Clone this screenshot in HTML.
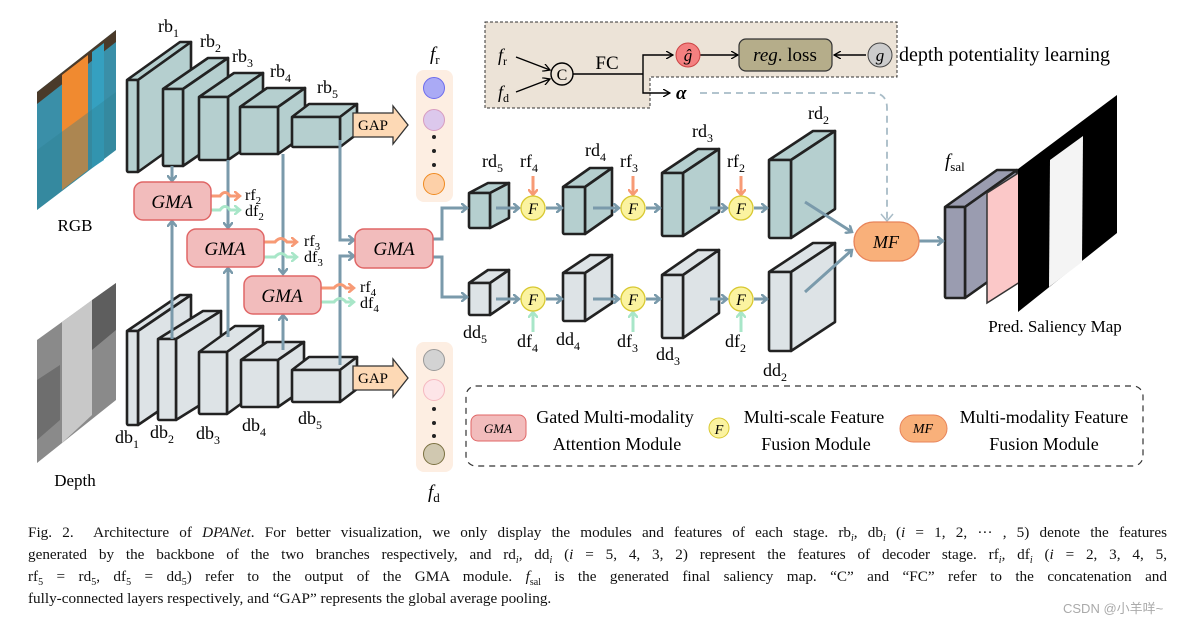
<!DOCTYPE html>
<html><head><meta charset="utf-8"><style>
html,body{margin:0;padding:0;background:#fff;width:1197px;height:624px;overflow:hidden;position:relative}
svg{position:absolute;left:0;top:0}
.cap{position:absolute;left:28px;width:1139px;font-family:"Liberation Serif",serif;font-size:15.2px;line-height:18px;text-align:justify;text-align-last:justify;color:#111;white-space:nowrap}
.cap.last{text-align-last:left}
.wm{position:absolute;left:1063px;top:598px;font-family:"Liberation Sans","Noto Sans CJK SC",sans-serif;font-size:13px;color:#aaa}
</style></head><body>
<svg width="1197" height="624" viewBox="0 0 1197 624" xmlns="http://www.w3.org/2000/svg" font-family="Liberation Serif, serif">
<defs>
<marker id="ab" markerWidth="8" markerHeight="10" refX="6" refY="5" orient="auto" markerUnits="userSpaceOnUse"><path d="M0,0 L6,5 L0,10" fill="none" stroke="#7a9aab" stroke-width="2.5"/></marker>
<marker id="ao" markerWidth="8" markerHeight="10" refX="6" refY="5" orient="auto" markerUnits="userSpaceOnUse"><path d="M0,0 L6,5 L0,10" fill="none" stroke="#f79a75" stroke-width="2.5"/></marker>
<marker id="ag" markerWidth="8" markerHeight="10" refX="6" refY="5" orient="auto" markerUnits="userSpaceOnUse"><path d="M0,0 L6,5 L0,10" fill="none" stroke="#a8e6c8" stroke-width="2.5"/></marker>
<marker id="ak" markerWidth="8" markerHeight="8" refX="7" refY="4" orient="auto" markerUnits="userSpaceOnUse"><path d="M0,0 L7,4 L0,8" fill="none" stroke="#000" stroke-width="1.3"/></marker>
</defs>

<!-- RGB image -->
<polygon points="37,92 116,30 116,150 37,210" fill="#3a8fa8"/>
<polygon points="37,92 116,30 116,42 37,104" fill="#4a3a2a"/>
<polygon points="62,75 88,55 88,170 62,190" fill="#f08a30"/>
<polygon points="92,52 104,43 104,160 92,168" fill="#35a0c0"/>
<polygon points="37,150 116,92 116,150 37,210" fill="#2e7f90" opacity="0.35"/>
<text x="75" y="231" font-size="17" text-anchor="middle">RGB</text>
<!-- Depth image -->
<polygon points="37,340 116,283 116,400 37,463" fill="#8a8a8a"/>
<polygon points="62,322 92,300 92,415 62,443" fill="#c8c8c8"/>
<polygon points="92,300 116,283 116,330 92,350" fill="#5e5e5e"/>
<polygon points="37,380 60,365 60,420 37,440" fill="#6e6e6e"/>
<text x="75" y="486" font-size="17" text-anchor="middle">Depth</text>

<g id="boxes" stroke="#222" stroke-width="2.6" stroke-linejoin="round"></g>

<g stroke="#7a9aab" stroke-width="3" fill="none">
<path d="M172,166 L172,181" marker-end="url(#ab)"/>
<path d="M172,339 L172,221" marker-end="url(#ab)"/>
<path d="M228,160 L228,228" marker-end="url(#ab)"/>
<path d="M228,337 L228,268" marker-end="url(#ab)"/>
<path d="M283,154 L283,274" marker-end="url(#ab)"/>
<path d="M283,350 L283,315" marker-end="url(#ab)"/>
<path d="M340,140 L340,240 L354,240" marker-end="url(#ab)"/>
<path d="M340,365 L340,256 L354,256" marker-end="url(#ab)"/>
<path d="M433,239 L442,239 L442,208 L467,208" marker-end="url(#ab)"/>
<path d="M433,257 L442,257 L442,297 L467,297" marker-end="url(#ab)"/>
<path d="M496,208 L519,208" marker-end="url(#ab)"/>
<path d="M546,208 L562,208" marker-end="url(#ab)"/>
<path d="M593,208 L619,208" marker-end="url(#ab)"/>
<path d="M646,208 L660,208" marker-end="url(#ab)"/>
<path d="M710,208 L727,208" marker-end="url(#ab)"/>
<path d="M754,208 L767,208" marker-end="url(#ab)"/>
<path d="M496,299 L519,299" marker-end="url(#ab)"/>
<path d="M546,299 L562,299" marker-end="url(#ab)"/>
<path d="M593,299 L619,299" marker-end="url(#ab)"/>
<path d="M646,299 L660,299" marker-end="url(#ab)"/>
<path d="M710,299 L727,299" marker-end="url(#ab)"/>
<path d="M754,299 L767,299" marker-end="url(#ab)"/>
<path d="M805,202 L852,232" marker-end="url(#ab)"/>
<path d="M805,292 L852,250" marker-end="url(#ab)"/>
<path d="M919,241 L943,241" marker-end="url(#ab)"/>
</g>
<g stroke-width="3" fill="none">
<path d="M211,196 L220,196 Q225,189 230,196 L240,196" stroke="#f79a75" marker-end="url(#ao)"/>
<path d="M211,210 L220,210 Q225,203 230,210 L240,210" stroke="#a8e6c8" marker-end="url(#ag)"/>
<path d="M264,242 L275,242 Q281,235 287,242 L297,242" stroke="#f79a75" marker-end="url(#ao)"/>
<path d="M264,257 L275,257 Q281,250 287,257 L297,257" stroke="#a8e6c8" marker-end="url(#ag)"/>
<path d="M321,288 L334,288 Q340,281 346,288 L354,288" stroke="#f79a75" marker-end="url(#ao)"/>
<path d="M321,302 L334,302 Q340,295 346,302 L354,302" stroke="#a8e6c8" marker-end="url(#ag)"/>
<path d="M533,176 L533,195" stroke="#f79a75" marker-end="url(#ao)"/>
<path d="M633,176 L633,195" stroke="#f79a75" marker-end="url(#ao)"/>
<path d="M741,176 L741,195" stroke="#f79a75" marker-end="url(#ao)"/>
<path d="M533,332 L533,312" stroke="#a8e6c8" marker-end="url(#ag)"/>
<path d="M633,332 L633,312" stroke="#a8e6c8" marker-end="url(#ag)"/>
<path d="M741,332 L741,312" stroke="#a8e6c8" marker-end="url(#ag)"/>
</g>

<g fill="#f2bcbc" stroke="#e06666" stroke-width="1.5">
<rect x="134" y="182" width="77" height="38" rx="9"/>
<rect x="187" y="229" width="77" height="38" rx="9"/>
<rect x="244" y="276" width="77" height="38" rx="9"/>
<rect x="355" y="229" width="78" height="39" rx="9"/>
</g>
<g font-size="19" font-style="italic" text-anchor="middle">
<text x="172" y="208">GMA</text><text x="225" y="255">GMA</text><text x="282" y="302">GMA</text><text x="394" y="255">GMA</text>
</g>
<g font-size="16">
<text x="245" y="200">rf<tspan font-size="11" dy="4">2</tspan></text>
<text x="245" y="216">df<tspan font-size="11" dy="4">2</tspan></text>
<text x="304" y="246">rf<tspan font-size="11" dy="4">3</tspan></text>
<text x="304" y="262">df<tspan font-size="11" dy="4">3</tspan></text>
<text x="360" y="292">rf<tspan font-size="11" dy="4">4</tspan></text>
<text x="360" y="308">df<tspan font-size="11" dy="4">4</tspan></text>
</g>

<g fill="#fdd9b5" stroke="#333" stroke-width="1.3">
<polygon points="353,113 393,113 393,106 408,125 393,144 393,137 353,137"/>
<polygon points="353,366 393,366 393,359 408,378 393,397 393,390 353,390"/>
</g>
<text x="373" y="130" font-size="15" text-anchor="middle">GAP</text>
<text x="373" y="383" font-size="15" text-anchor="middle">GAP</text>

<rect x="416" y="70" width="37" height="132" rx="8" fill="#fdeee2"/>
<rect x="416" y="342" width="37" height="130" rx="8" fill="#fdeee2"/>
<circle cx="434" cy="88" r="10.5" fill="#aaaaf5" stroke="#6b6bee"/>
<circle cx="434" cy="120" r="10.5" fill="#dcc8ec" stroke="#d79bc0"/>
<circle cx="434" cy="184" r="10.5" fill="#fdd0a8" stroke="#f08a20"/>
<circle cx="434" cy="360" r="10.5" fill="#d3d3d3" stroke="#999"/>
<circle cx="434" cy="390" r="10.5" fill="#fde5e8" stroke="#f5b8c0"/>
<circle cx="434" cy="454" r="10.5" fill="#d0c8b0" stroke="#7a7040"/>
<g fill="#222"><circle cx="434" cy="137" r="2"/><circle cx="434" cy="151" r="2"/><circle cx="434" cy="165" r="2"/>
<circle cx="434" cy="409" r="2"/><circle cx="434" cy="423" r="2"/><circle cx="434" cy="436" r="2"/></g>
<text x="430" y="60" font-size="19"><tspan font-style="italic">f</tspan><tspan font-size="13" dy="4">r</tspan></text>
<text x="428" y="498" font-size="19"><tspan font-style="italic">f</tspan><tspan font-size="13" dy="4">d</tspan></text>

<g font-size="18">
<text x="158" y="32">rb<tspan font-size="12" dy="5">1</tspan></text>
<text x="200" y="47">rb<tspan font-size="12" dy="5">2</tspan></text>
<text x="232" y="62">rb<tspan font-size="12" dy="5">3</tspan></text>
<text x="270" y="77">rb<tspan font-size="12" dy="5">4</tspan></text>
<text x="317" y="93">rb<tspan font-size="12" dy="5">5</tspan></text>
<text x="115" y="443">db<tspan font-size="12" dy="5">1</tspan></text>
<text x="150" y="438">db<tspan font-size="12" dy="5">2</tspan></text>
<text x="196" y="439">db<tspan font-size="12" dy="5">3</tspan></text>
<text x="242" y="431">db<tspan font-size="12" dy="5">4</tspan></text>
<text x="298" y="424">db<tspan font-size="12" dy="5">5</tspan></text>
<text x="482" y="167">rd<tspan font-size="12" dy="5">5</tspan></text>
<text x="520" y="167">rf<tspan font-size="12" dy="5">4</tspan></text>
<text x="585" y="156">rd<tspan font-size="12" dy="5">4</tspan></text>
<text x="620" y="167">rf<tspan font-size="12" dy="5">3</tspan></text>
<text x="692" y="137">rd<tspan font-size="12" dy="5">3</tspan></text>
<text x="727" y="167">rf<tspan font-size="12" dy="5">2</tspan></text>
<text x="808" y="119">rd<tspan font-size="12" dy="5">2</tspan></text>
<text x="463" y="338">dd<tspan font-size="12" dy="5">5</tspan></text>
<text x="517" y="347">df<tspan font-size="12" dy="5">4</tspan></text>
<text x="556" y="345">dd<tspan font-size="12" dy="5">4</tspan></text>
<text x="617" y="347">df<tspan font-size="12" dy="5">3</tspan></text>
<text x="656" y="360">dd<tspan font-size="12" dy="5">3</tspan></text>
<text x="725" y="347">df<tspan font-size="12" dy="5">2</tspan></text>
<text x="763" y="376">dd<tspan font-size="12" dy="5">2</tspan></text>
</g>

<g fill="#fbf3a0" stroke="#d8c830" stroke-width="1.3">
<circle cx="533" cy="208" r="12"/><circle cx="633" cy="208" r="12"/><circle cx="741" cy="208" r="12"/>
<circle cx="533" cy="299" r="12"/><circle cx="633" cy="299" r="12"/><circle cx="741" cy="299" r="12"/>
</g>
<g font-size="16" font-style="italic" text-anchor="middle">
<text x="533" y="214">F</text><text x="633" y="214">F</text><text x="741" y="214">F</text>
<text x="533" y="305">F</text><text x="633" y="305">F</text><text x="741" y="305">F</text>
</g>

<path d="M700,93 L872,93 Q887,93 887,108 L887,220" fill="none" stroke="#a8bcc7" stroke-width="1.8" stroke-dasharray="7,5"/>
<path d="M881,214 L887,221 L893,214" fill="none" stroke="#a8bcc7" stroke-width="1.5"/>
<rect x="854" y="222" width="65" height="39" rx="19.5" fill="#f9b07a" stroke="#e8845a" stroke-width="1.3"/>
<text x="886" y="248" font-size="18" font-style="italic" text-anchor="middle">MF</text>

<polygon points="987,193 1020,172 1020,282 987,303" fill="#fbc8c8" stroke="#333" stroke-width="1.5"/>
<polygon points="1018,169 1117,95 1117,233 1018,312" fill="#000"/>
<polygon points="1050,160 1083,136 1082,262 1049,287" fill="#f4f4f4"/>
<text x="945" y="167" font-size="19"><tspan font-style="italic">f</tspan><tspan font-size="13" dy="4">sal</tspan></text>
<text x="1055" y="332" font-size="17" text-anchor="middle">Pred. Saliency Map</text>

<!-- top box -->
<path d="M485,22 L897,22 L897,77 L650,77 L650,108 L485,108 Z" fill="#ece3d7" stroke="#333" stroke-width="1" stroke-dasharray="3,2"/>
<text x="498" y="61" font-size="18"><tspan font-style="italic">f</tspan><tspan font-size="12" dy="4">r</tspan></text>
<text x="498" y="98" font-size="18"><tspan font-style="italic">f</tspan><tspan font-size="12" dy="4">d</tspan></text>
<g stroke="#000" stroke-width="1.4" fill="none">
<path d="M516,57 L550,70" marker-end="url(#ak)"/>
<path d="M516,92 L550,79" marker-end="url(#ak)"/>
<circle cx="562" cy="74" r="11" fill="#ece3d7"/>
<path d="M573,74 L643,74"/>
<path d="M643,74 L643,55 L673,55" marker-end="url(#ak)"/>
<path d="M643,74 L643,93 L670,93" marker-end="url(#ak)"/>
<path d="M700,55 L738,55" marker-end="url(#ak)"/>
<path d="M866,55 L834,55" marker-end="url(#ak)"/>
</g>
<text x="562" y="80" font-size="16" text-anchor="middle">C</text>
<text x="607" y="69" font-size="19" text-anchor="middle">FC</text>
<circle cx="688" cy="55" r="12" fill="#f48080" stroke="#c44" stroke-width="1"/>
<text x="688" y="61" font-size="17" font-style="italic" text-anchor="middle">ĝ</text>
<rect x="739" y="39" width="93" height="32" rx="7" fill="#b5ad8a" stroke="#333" stroke-width="1.2"/>
<text x="785" y="61" font-size="19" text-anchor="middle"><tspan font-style="italic">reg</tspan>. loss</text>
<circle cx="880" cy="55" r="12" fill="#ccc" stroke="#444" stroke-width="1"/>
<text x="880" y="61" font-size="17" font-style="italic" text-anchor="middle">g</text>
<text x="899" y="61" font-size="20">depth potentiality learning</text>
<text x="676" y="99" font-size="19" font-weight="bold" font-style="italic">α</text>

<!-- legend -->
<rect x="466" y="386" width="677" height="80" rx="10" fill="none" stroke="#333" stroke-width="1.2" stroke-dasharray="6,5"/>
<rect x="471" y="415" width="55" height="26" rx="7" fill="#f2bcbc" stroke="#e06666"/>
<text x="498" y="433" font-size="13" font-style="italic" text-anchor="middle">GMA</text>
<circle cx="719" cy="428" r="10" fill="#fbf3a0" stroke="#d8c830"/>
<text x="719" y="434" font-size="14" font-style="italic" text-anchor="middle">F</text>
<rect x="900" y="415" width="47" height="27" rx="13.5" fill="#f9b07a" stroke="#e8845a"/>
<text x="923" y="433" font-size="14" font-style="italic" text-anchor="middle">MF</text>
<g font-size="18" text-anchor="middle">
<text x="615" y="423">Gated Multi-modality</text><text x="617" y="450">Attention Module</text>
<text x="814" y="423">Multi-scale Feature</text><text x="816" y="450">Fusion Module</text>
<text x="1044" y="423">Multi-modality Feature</text><text x="1044" y="450">Fusion Module</text>
</g>
</svg>

<div class="cap" style="top:524px">Fig. 2.&nbsp; Architecture of <i>DPANet</i>. For better visualization, we only display the modules and features of each stage. rb<sub style="font-size:10px"><i>i</i></sub>, db<sub style="font-size:10px"><i>i</i></sub> (<i>i</i> = 1, 2, ··· , 5) denote the features</div>
<div class="cap" style="top:546px">generated by the backbone of the two branches respectively, and rd<sub style="font-size:10px"><i>i</i></sub>, dd<sub style="font-size:10px"><i>i</i></sub> (<i>i</i> = 5, 4, 3, 2) represent the features of decoder stage. rf<sub style="font-size:10px"><i>i</i></sub>, df<sub style="font-size:10px"><i>i</i></sub> (<i>i</i> = 2, 3, 4, 5,</div>
<div class="cap" style="top:568px">rf<sub style="font-size:10px">5</sub> = rd<sub style="font-size:10px">5</sub>, df<sub style="font-size:10px">5</sub> = dd<sub style="font-size:10px">5</sub>) refer to the output of the GMA module. <i>f</i><sub style="font-size:10px">sal</sub> is the generated final saliency map. “C” and “FC” refer to the concatenation and</div>
<div class="cap last" style="top:590px">fully-connected layers respectively, and “GAP” represents the global average pooling.</div>
<div class="wm">CSDN @小羊咩~</div>

<script>
(function(){
var g=document.getElementById('boxes');
function box(x,y,w,h,X2,Yt,fill){
 var dx=X2-(x+w), dy=Yt-y;
 var s='<polygon fill="'+fill+'" points="'+x+','+y+' '+(x+dx)+','+(y+dy)+' '+(x+w+dx)+','+(y+dy)+' '+(x+w)+','+y+'"/>'+
 '<polygon fill="'+fill+'" points="'+(x+w)+','+y+' '+(x+w+dx)+','+(y+dy)+' '+(x+w+dx)+','+(y+h+dy)+' '+(x+w)+','+(y+h)+'"/>'+
 '<rect fill="'+fill+'" x="'+x+'" y="'+y+'" width="'+w+'" height="'+h+'" rx="1.5"/>';
 g.insertAdjacentHTML('beforeend',s);
}
var R='#b5cfcf',D='#dde3e6';
box(127,80,11,92,191,42,R);
box(163,89,20,77,228,58,R);
box(199,97,29,63,263,73,R);
box(240,107,38,47,305,88,R);
box(292,117,48,30,357,104,R);
box(127,331,11,94,191,295,D);
box(158,339,18,81,221,311,D);
box(199,352,28,62,263,326,D);
box(241,360,37,47,304,342,D);
box(292,370,48,32,357,357,D);
box(469,193,21,35,509,183,R);
box(563,187,22,47,612,168,R);
box(662,173,21,63,719,149,R);
box(769,160,22,78,835,131,R);
box(469,283,21,32,509,270,D);
box(563,273,22,48,612,255,D);
box(662,275,21,63,719,250,D);
box(769,272,22,79,835,243,D);
box(945,207,20,91,1017,170,'#9a9cb0');
})();
</script>
</body></html>
